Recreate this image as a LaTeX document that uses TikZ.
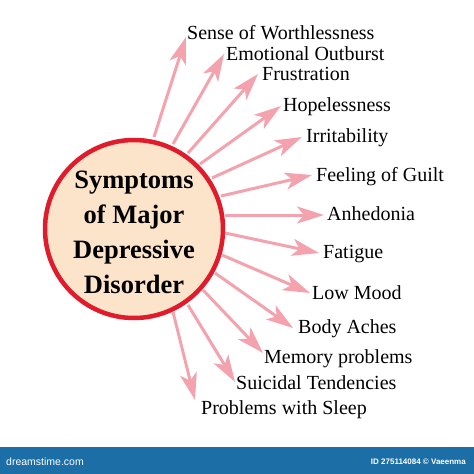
\documentclass[tikz,border=0pt]{standalone}
\usepackage{fontspec}
\setmainfont{Liberation Serif}
\newfontfamily\barfont{Liberation Sans}
\usetikzlibrary{arrows.meta}
\definecolor{arrowpink}{HTML}{F4A3AE}
\definecolor{ringred}{HTML}{E11B2B}
\definecolor{beige}{HTML}{FCE4CB}
\definecolor{barblue}{HTML}{1C6EA7}
\tikzset{
  sym/.style={anchor=base west, inner sep=0pt, font=\fontsize{20}{22}\selectfont},
  arr/.style={draw=arrowpink, line width=3pt, -{Stealth[length=27pt, width=17pt, inset=7pt]}},
}
\begin{document}
\begin{tikzpicture}[x=1pt, y=-1pt]
\useasboundingbox (0,0) rectangle (474,474);
\fill[white] (0,0) rectangle (474,474);
% central circle
\node (c) [circle, minimum size=178pt, inner sep=0pt, fill=beige, draw=ringred, line width=4.5pt] at (134,229) {};
\node (t) [align=center, font=\fontsize{26.5}{35}\bfseries\selectfont, inner sep=0pt] at (134,232) {Symptoms\\of Major\\Depressive\\Disorder};
% labels
\node (l1) [sym] at (187,39) {Sense of Worthlessness};
\node (l2) [sym] at (226,60) {Emotional Outburst};
\node (l3) [sym] at (262,80) {Frustration};
\node (l4) [sym] at (283,111) {Hopelessness};
\node (l5) [sym] at (306,142) {Irritability};
\node (l6) [sym] at (316,181) {Feeling of Guilt};
\node (l7) [sym] at (327,220) {Anhedonia};
\node (l8) [sym] at (323,258) {Fatigue};
\node (l9) [sym] at (312,299) {Low Mood};
\node (l10) [sym] at (298,333) {Body Aches};
\node (l11) [sym] at (264,363) {Memory problems};
\node (l12) [sym] at (236,389) {Suicidal Tendencies};
\node (l13) [sym] at (201,414) {Problems with Sleep};
% arrow start and tip points
\coordinate (s1) at (154,137);  \coordinate (e1) at (186,37);
\coordinate (s2) at (173,144);  \coordinate (e2) at (224,54);
\coordinate (s3) at (188,153);  \coordinate (e3) at (258,74);
\coordinate (s4) at (200,164);  \coordinate (e4) at (281,106);
\coordinate (s5) at (212,178);  \coordinate (e5) at (302,137);
\coordinate (s6) at (221,196);  \coordinate (e6) at (312,175);
\coordinate (s7) at (225,215);  \coordinate (e7) at (324,215);
\coordinate (s8) at (225,233);  \coordinate (e8) at (319,253);
\coordinate (s9) at (222,255);  \coordinate (e9) at (310,293);
\coordinate (s10) at (215,273); \coordinate (e10) at (293,328);
\coordinate (s11) at (203,290); \coordinate (e11) at (263,353);
\coordinate (s12) at (188,305); \coordinate (e12) at (235,382);
\coordinate (s13) at (173,312); \coordinate (e13) at (195,400);
\foreach \i in {1,...,13} { \draw[arr] (s\i) -- (e\i); }
% bottom bar
\fill[barblue] (0,447) rectangle (474,474);
\node (wm) [anchor=west, text=white, inner sep=0pt, font=\barfont\fontsize{10.5}{12}\selectfont] at (6,462) {dreamstime.com};
\node (id) [anchor=east, text=white, inner sep=0pt, font=\barfont\bfseries\fontsize{8}{9}\selectfont] at (466,462) {ID 275114084 © Vaeenma};
\end{tikzpicture}
\end{document}
